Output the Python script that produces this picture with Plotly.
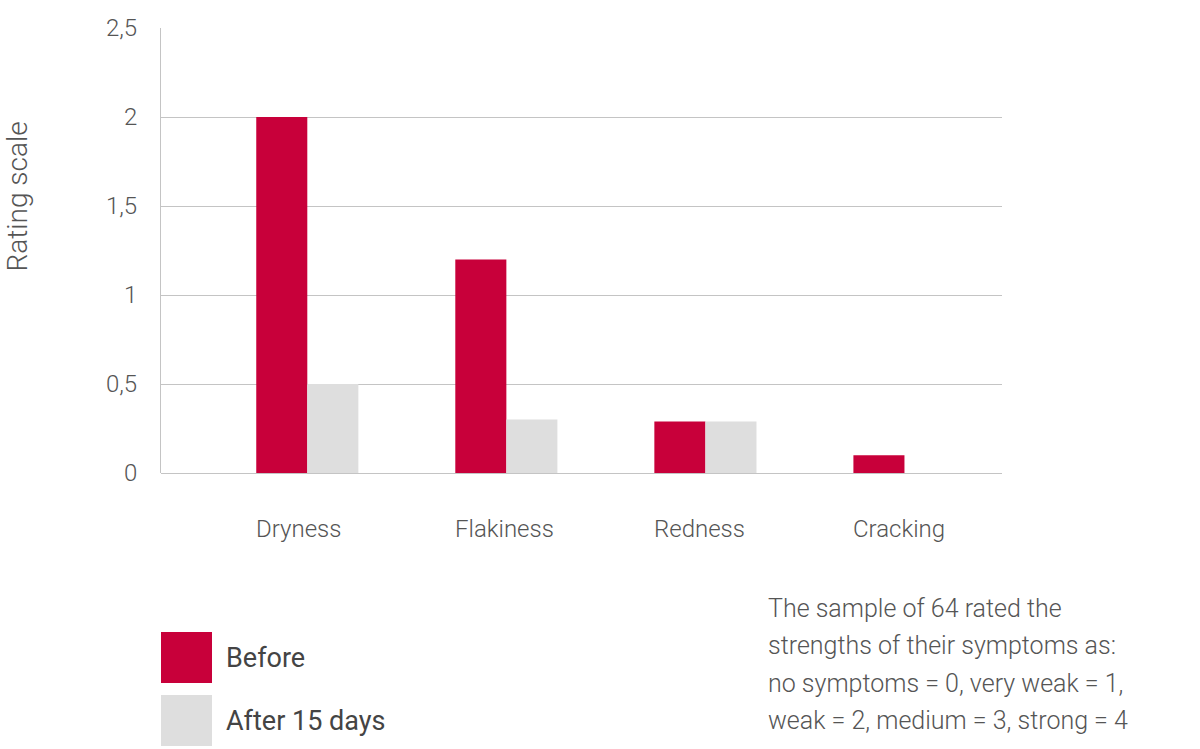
import plotly.graph_objects as go

categories = ["Dryness", "Flakiness", "Redness", "Cracking"]
before = [2.0, 1.2, 0.29, 0.1]
after_15_days = [0.5, 0.3, 0.29, 0.0]
series_names = ["Before", "After 15 days"]
note_lines = [
    "The sample of 64 rated the",
    "strengths of their symptoms as:",
    "no symptoms = 0, very weak = 1,",
    "weak = 2, medium = 3, strong = 4",
]
y_title = "Rating scale"

RED = "#C8003A"
GREY = "#DEDEDE"
TEXT = "#555555"
GRID = "#C4C4C4"
FONT = "Roboto"

W_FIG, H_FIG = 1200, 749
L, R, T, B = 161, 1002, 28, 473
PW, PH = R - L, B - T


def px(x):
    return (x - L) / PW


def py(y):
    return (B - y) / PH


BARGAP = 0.487
half_group = (1 - BARGAP) / 2

fig = go.Figure()
fig.add_trace(go.Bar(x=categories, y=before, name=series_names[0],
                     marker=dict(color=RED, line=dict(width=0)), showlegend=False))
fig.add_trace(go.Bar(x=categories, y=after_15_days, name=series_names[1],
                     marker=dict(color=GREY, line=dict(width=0)), showlegend=False))

fig.update_layout(
    width=W_FIG, height=H_FIG,
    margin=dict(l=L, r=W_FIG - R, t=T, b=H_FIG - B, pad=0),
    paper_bgcolor="white", plot_bgcolor="white",
    barmode="group", bargap=BARGAP, bargroupgap=0,
    separators=", ",
    font=dict(family=FONT, color=TEXT),
    xaxis=dict(type="category", range=[-0.735, 3.49], showticklabels=False,
               showgrid=False, zeroline=False, showline=False, ticks=""),
    yaxis=dict(range=[0, 2.5], dtick=0.5, tick0=0, showgrid=True, gridcolor=GRID,
               gridwidth=1, zeroline=True, zerolinecolor=GRID, zerolinewidth=1,
               showline=True, linecolor=GRID, linewidth=1, ticks="",
               ticklabelstandoff=18,
               tickfont=dict(family=FONT, size=24, color=TEXT, weight=300)),
)

annotations = []
# category labels, left-aligned with the start of each bar group
for i, c in enumerate(categories):
    annotations.append(dict(x=i - half_group, y=py(529), xref="x", yref="paper",
                            text=c, showarrow=False, xanchor="left", yanchor="middle",
                            xshift=-2,
                            font=dict(family=FONT, size=24, color=TEXT, weight=300)))
# y title
annotations.append(dict(x=px(0), y=py(197), xref="paper", yref="paper",
                        text=y_title, textangle=-90, showarrow=False,
                        xanchor="left", yanchor="middle", borderpad=0,
                        font=dict(family=FONT, size=28, color=TEXT, weight=300)))
# legend
shapes = []
legend_tops = [632, 695]
for name, col, top in zip(series_names, [RED, GREY], legend_tops):
    shapes.append(dict(type="rect", xref="paper", yref="paper",
                       x0=px(161), x1=px(212), y0=py(top), y1=py(top + 51),
                       fillcolor=col, line=dict(width=0)))
    annotations.append(dict(x=px(224), y=py(top + 26), xref="paper", yref="paper",
                            text=name, showarrow=False, xanchor="left", yanchor="middle",
                            font=dict(family=FONT, size=27, color="#444444")))
# note
for k, line in enumerate(note_lines):
    annotations.append(dict(x=px(766), y=py(608 + k * 37.5), xref="paper", yref="paper",
                            text=line, showarrow=False, xanchor="left", yanchor="middle",
                            font=dict(family=FONT, size=25, color=TEXT, weight=300)))

fig.update_layout(annotations=annotations, shapes=shapes)
fig.write_html("out.html")
